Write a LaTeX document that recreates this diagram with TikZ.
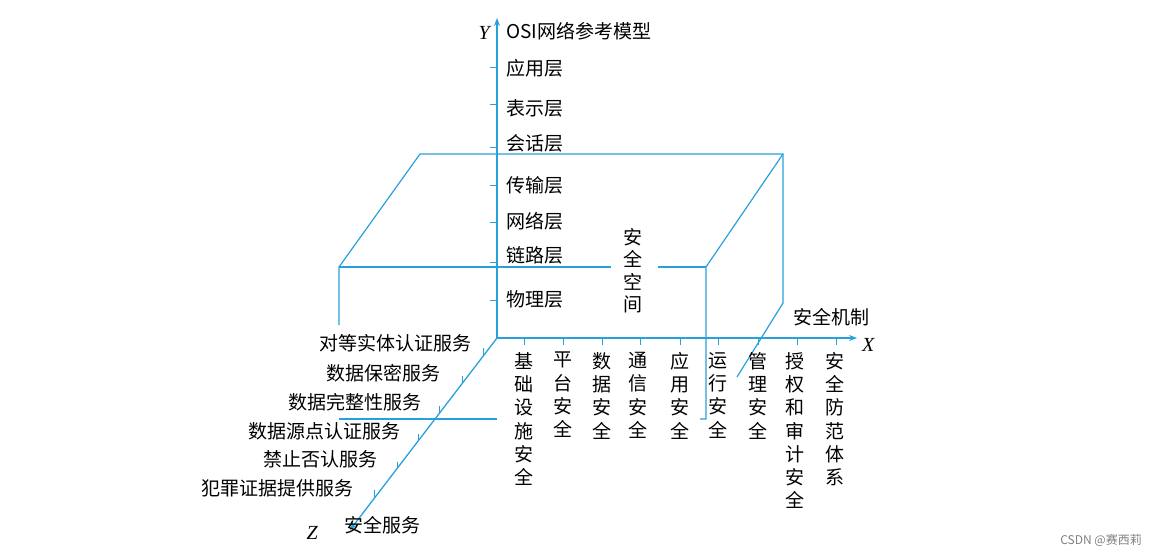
\documentclass[tikz,border=0pt]{standalone}
\usepackage{fontspec}
\newfontfamily\cjk{Noto Sans CJK SC}
\setmainfont{Liberation Serif}
\usetikzlibrary{arrows.meta,calc}
\definecolor{ln}{RGB}{40,160,220}
\begin{document}
\begin{tikzpicture}[x=1pt,y=-1pt,
  ax/.style={ln,line width=1.3pt,-{Stealth[length=8pt,width=6pt]}},
  bx/.style={ln,line width=1.2pt},
  tk/.style={ln,line width=1pt},
  lab/.style={font=\cjk\fontsize{19}{22}\selectfont,inner sep=0pt},
  col/.style={font=\cjk\fontsize{19}{23.3}\selectfont,inner sep=0pt,align=center,anchor=north},
  axl/.style={font=\itshape\fontsize{20}{20}\selectfont,inner sep=0pt}]
\useasboundingbox (0,0) rectangle (1157,557);
\coordinate (O) at (497,338);
\coordinate (Ye) at (497,18);
\coordinate (Xe) at (857,338);
\coordinate (Ze) at (350,530);
\draw[ax] (O) -- (Ye);
\draw[ax] (O) -- (Xe);
\draw[ax] (O) -- (Ze);
% Y ticks
\foreach \y in {67,104,147,185,222,262,300} \draw[tk] (490,\y) -- (497,\y);
% X ticks
\foreach \x in {524,563,602,640,680,718,758,797,836} \draw[tk] (\x,338) -- (\x,345);
% Z ticks
\foreach \t in {0.09,0.235,0.39,0.535,0.68,0.83} \draw[tk] ($(O)!\t!(Ze)$) -- ++(0,-7);
% box
\coordinate (a) at (339,267); \coordinate (b) at (706,267);
\coordinate (c) at (420,154); \coordinate (d) at (783,154);
\coordinate (e) at (783,303); \coordinate (f) at (737,377);
\coordinate (g) at (339,325); \coordinate (h) at (706,419);
\draw[bx] (g) -- (a) -- (c) -- (d) -- (e) -- (f);
\draw[bx] (d) -- (b) -- (h) -- (700,419);
\draw[bx] (a) -- (611,267); \draw[bx] (658,267) -- (b);
\draw[bx] (339,419) -- (497,419);
% labels
\node[axl,anchor=east] (Y) at (490,33) {Y};
\node[axl,anchor=west] (X) at (862,345) {X};
\node[axl,anchor=east] (Z) at (318,533) {Z};
\node[lab,anchor=west] (osi) at (506,31) {OSI网络参考模型};
\node[lab,anchor=west] at (506,68) {应用层};
\node[lab,anchor=west] at (506,108) {表示层};
\node[lab,anchor=west] at (506,143) {会话层};
\node[lab,anchor=west] at (506,185) {传输层};
\node[lab,anchor=west] at (506,221) {网络层};
\node[lab,anchor=west] at (506,255) {链路层};
\node[lab,anchor=west] at (506,299) {物理层};
\node[col,font=\cjk\fontsize{19}{22.5}\selectfont] at (633,228) {安\\全\\空\\间};
\node[lab,anchor=west] at (793,317) {安全机制};
\node[lab,anchor=west] at (344,525) {安全服务};
\node[lab,anchor=east] at (472,343) {对等实体认证服务};
\node[lab,anchor=east] at (441,373) {数据保密服务};
\node[lab,anchor=east] at (422,402) {数据完整性服务};
\node[lab,anchor=east] at (401,431) {数据源点认证服务};
\node[lab,anchor=east] at (378,459) {禁止否认服务};
\node[lab,anchor=east] at (354,488) {犯罪证据提供服务};
\node[col] at (524,352) {基\\础\\设\\施\\安\\全};
\node[col] at (563,352) {平\\台\\安\\全};
\node[col] at (602,352) {数\\据\\安\\全};
\node[col] at (638,352) {通\\信\\安\\全};
\node[col] at (680,352) {应\\用\\安\\全};
\node[col] at (718,352) {运\\行\\安\\全};
\node[col] at (758,352) {管\\理\\安\\全};
\node[col] at (795,352) {授\\权\\和\\审\\计\\安\\全};
\node[col] at (835,352) {安\\全\\防\\范\\体\\系};
\node[font=\cjk\fontsize{12}{12}\selectfont,text=gray,anchor=east,inner sep=0pt] at (1142,540) {CSDN @赛西莉};
\end{tikzpicture}
\end{document}
